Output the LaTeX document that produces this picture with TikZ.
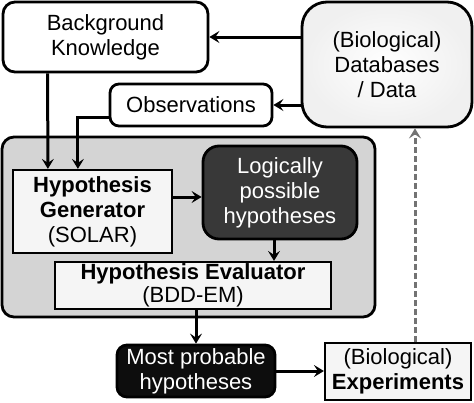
\documentclass[tikz,border=0pt]{standalone}
\usepackage{fontspec}
\setmainfont{Liberation Sans}
\usetikzlibrary{arrows.meta,positioning,calc}

\begin{document}
\begin{tikzpicture}[
    x=1pt, y=-1pt,
    every node/.style={font=\fontsize{22}{25}\selectfont, align=center, line width=2.8pt, inner sep=1pt},
    softbox/.style={rectangle, draw, rounded corners=12pt, fill=white},
    plainbox/.style={rectangle, draw, line width=2.2pt, fill=black!4},
    darkbox/.style={rectangle, draw, rounded corners=14pt, fill=black!78, text=white},
    arr/.style={-{Stealth[length=10pt,width=12pt,inset=4pt]}, line width=3pt},
    dasharr/.style={arr, draw=black!55, dash pattern=on 6pt off 3pt}
]
\useasboundingbox (0,0) rectangle (474,402);

% Sources
\node[softbox, minimum width=205pt, minimum height=70pt] (bk) at (105.5,37) {Background\\Knowledge};
\node[softbox, rounded corners=25pt, inner color=white, outer color=black!6,
      minimum width=170pt, minimum height=125pt] (db) at (387,64.5) {(Biological)\\Databases\\/ Data};
\node[softbox, rounded corners=9pt, minimum width=162pt, minimum height=42pt] (obs) at (191,105) {Observations};

% Reasoning engine
\node[draw, rounded corners=12pt, fill=black!17, minimum width=373pt, minimum height=180pt] (engine) at (188.5,227) {};
\node[plainbox, minimum width=159pt, minimum height=83pt] (gen) at (92.5,211.5) {\textbf{Hypothesis}\\\textbf{Generator}\\(SOLAR)};
\node[darkbox, rounded corners=16pt, minimum width=154pt, minimum height=93pt] (possible) at (280,192.5) {Logically\\possible\\hypotheses};
\node[plainbox, minimum width=276pt, minimum height=47pt, inner sep=0pt] (eva) at (193,285.5) {\textbf{Hypothesis Evaluator}\\[-2pt](BDD-EM)};

% Results
\node[darkbox, rounded corners=10pt, fill=black!95, minimum width=158pt, minimum height=52pt, inner sep=0pt] (probable) at (196,371) {Most probable\\hypotheses};
\node[plainbox, minimum width=146pt, minimum height=57pt, inner sep=0pt] (exp) at (398,371.5) {(Biological)\\\textbf{Experiments}};

% Connections
\draw[arr] (db.west |- bk.east) -- (bk.east);
\draw[arr] (db.west |- obs.east) -- (obs.east);
\draw[arr] ([xshift=46pt]bk.south west) -- ([xshift=36pt]gen.north west);
\draw[arr] ([yshift=-12pt]obs.west) -| ([xshift=66pt]gen.north west);
\draw[arr] (gen.east |- 0,197) -- (possible.west |- 0,197);
\draw[arr] ([xshift=-6pt]possible.south) -- ([xshift=-6pt]possible.south |- eva.north);
\draw[arr] ([xshift=3pt]eva.south) -- ([xshift=3pt]eva.south |- probable.north);
\draw[arr] (probable.east) -- (exp.west |- probable.east);

% Feedback
\draw[dasharr] ([xshift=17pt]exp.north) -- ([xshift=17pt]exp.north |- db.south);

\end{tikzpicture}
\end{document}
